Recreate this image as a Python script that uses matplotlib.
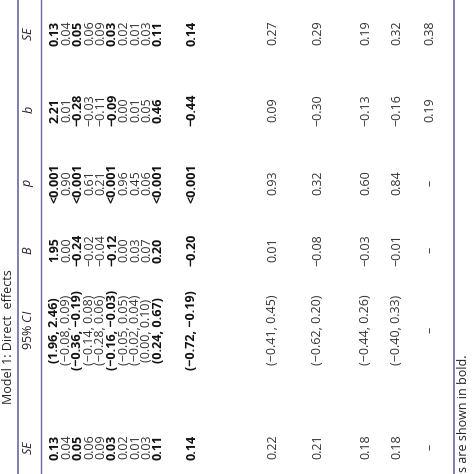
import matplotlib
matplotlib.use("Agg")
import matplotlib.pyplot as plt

plt.rcParams['font.family'] = ['Open Sans', 'DejaVu Sans']
plt.rcParams['mathtext.fontset'] = 'custom'
plt.rcParams['mathtext.it'] = 'Open Sans:italic'
plt.rcParams['mathtext.rm'] = 'Open Sans'

headers = ["SE", "b", "p", "B", "95% $\\mathit{CI}$", "SE"]
se1 = ["0.13","0.04","0.05","0.06","0.09","0.03","0.02","0.01","0.03","0.11","0.14","0.27","0.29","0.19","0.32","0.38"]
b_vals = ["2.21","0.01","−0.28","−0.03","−0.11","−0.09","0.00","0.01","0.05","0.46","−0.44","0.09","−0.30","−0.13","−0.16","0.19"]
p_vals = ["<0.001","0.90","<0.001","0.61","0.21","<0.001","0.96","0.45","0.06","<0.001","<0.001","0.93","0.32","0.60","0.84","–"]
B_vals = ["1.95","0.00","−0.24","−0.02","−0.04","−0.12","0.00","0.03","0.07","0.20","−0.20","0.01","−0.08","−0.03","−0.01","–"]
ci_vals = ["(1.96, 2.46)","(−0.08, 0.09)","(−0.36, −0.19)","(−0.14, 0.08)","(−0.28, 0.06)","(−0.16, −0.03)",
           "(−0.05, 0.05)","(−0.02, 0.04)","(0.00, 0.10)","(0.24, 0.67)","(−0.72, −0.19)","(−0.41, 0.45)",
           "(−0.62, 0.20)","(−0.44, 0.26)","(−0.40, 0.33)","–"]
se2 = ["0.13","0.04","0.05","0.06","0.09","0.03","0.02","0.01","0.03","0.11","0.14","0.22","0.21","0.18","0.18","–"]
bold_rows = [0, 2, 5, 9, 10]

columns = [se1, b_vals, p_vals, B_vals, ci_vals, se2]
col_y = [33, 110, 183, 250, 330, 447]
row_x = [55 + i * 11.5 for i in range(10)] + [192, 273, 318, 366, 397, 430]

fig = plt.figure(figsize=(4.74, 4.74), dpi=100)
ax = fig.add_axes([0, 0, 1, 1])
ax.set_xlim(0, 474)
ax.set_ylim(474, 0)
ax.axis('off')

line_c = '#6b6aa6'
ax.plot([18, 18], [0, 474], color=line_c, lw=1.2)
ax.plot([41, 41], [0, 474], color=line_c, lw=1.0)
ax.plot([454, 454], [0, 474], color=line_c, lw=1.2)

fs = 9
ax.text(9, 337, "Model 1: Direct  effects", rotation=90, ha='center', va='center', fontsize=fs, color='#222222')
for h, y in zip(headers, col_y):
    txt = h if '$' in h else "$\\mathit{" + h + "}$"
    ax.text(29, y, txt, rotation=90, ha='center', va='center', fontsize=fs, color='#222222')

for col, y in zip(columns, col_y):
    for i, (v, x) in enumerate(zip(col, row_x)):
        bold = i in bold_rows
        ax.text(x, y, v, rotation=90, ha='center', va='center', fontsize=fs,
                fontweight='bold' if bold else 'normal', color='#111111' if bold else '#333333')

ax.text(464, 472, "s are shown in bold.", rotation=90, rotation_mode='anchor',
        ha='left', va='center', fontsize=fs, color='#222222')

fig.savefig("out.png", dpi=100, facecolor='white')
